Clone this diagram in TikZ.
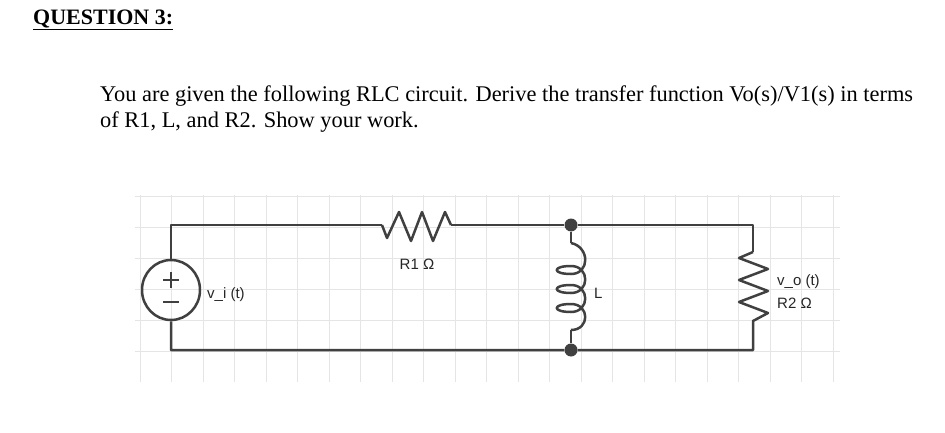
\documentclass[tikz,border=0pt]{standalone}
\usepackage{fontspec}
\setmainfont{Liberation Serif}
\setsansfont{Liberation Sans}
\usetikzlibrary{shapes.geometric}
\begin{document}
\begin{tikzpicture}[x=1pt,y=-1pt,
  wire/.style={line width=2.5pt,draw=black!75,line join=round},
  lbl/.style={font=\sffamily\fontsize{15}{17}\selectfont,text=black!85,inner sep=0pt},
  dot/.style={circle,fill=black!75,inner sep=0pt,minimum size=13pt}]
\useasboundingbox (0,0) rectangle (945,433);
\fill[white] (0,0) rectangle (945,433);
% grid
\foreach \i in {0,...,22} \draw[black!10,line width=1pt] (140+31.5*\i,195) -- (140+31.5*\i,382);
\foreach \j in {0,...,5} \draw[black!10,line width=1pt] (135,196+31*\j) -- (840,196+31*\j);
% texts
\node[anchor=west,inner sep=0pt,font=\fontsize{22}{24}\selectfont\bfseries] (q) at (33,20) {\underline{QUESTION 3:}};
\node[anchor=north west,inner sep=0pt,align=left,font=\fontsize{22.4}{26}\selectfont] (t) at (100,86)
 {You are given the following RLC circuit. Derive the transfer function Vo(s)/V1(s) in terms\\of R1, L, and R2. Show your work.};
% coordinates
\coordinate (tl) at (171,225); \coordinate (bl) at (171,350);
\node[dot] (nt) at (571,225) {}; \node[dot] (nb) at (571,350) {};
\coordinate (tr) at (753,225); \coordinate (br) at (753,350);
\node[draw=black!75,line width=2.5pt,ellipse,minimum width=58pt,minimum height=60pt,inner sep=0pt] (src) at (171,290) {};
\draw[wire] (163,280) -- (179,280) (171,272) -- (171,288);
\draw[wire] (163,302) -- (179,302);
\coordinate (r1a) at (382,225); \coordinate (r1b) at (451,225);
\coordinate (ia) at (571,243); \coordinate (ib) at (571,330);
\coordinate (r2a) at (753,252); \coordinate (r2b) at (753,321);
\draw[wire] (src.north) -- (tl) -- (r1a);
\draw[wire] (r1a) -- (387,238) -- (399,212) -- (411,241) -- (422,212) -- (433,241) -- (445,212) -- (r1b);
\draw[wire] (r1b) -- (nt) -- (tr) -- (r2a);
\draw[wire] (r2a) -- (739,258) -- (768,269) -- (739,280) -- (768,291) -- (739,302) -- (768,313) -- (r2b) -- (br) -- (nb) -- (bl) -- (src.south);
\draw[wire] (nt) -- (ia);
\draw[wire] (ia) .. controls (590,247) and (590,274) .. (571,274) .. controls (552,274) and (552,266) .. (571,266)
 .. controls (590,266) and (590,293) .. (571,293) .. controls (552,293) and (552,285) .. (571,285)
 .. controls (590,285) and (590,312) .. (571,312) .. controls (552,312) and (552,304) .. (571,304)
 .. controls (590,304) and (590,330) .. (ib);
\draw[wire] (ib) -- (nb);
\node[lbl] (l1) at (417,264) {R1 Ω};
\node[lbl,anchor=west] (l2) at (207,295) {v\_i (t)};
\node[lbl,anchor=west] (l3) at (594,293) {L};
\node[lbl,anchor=west] (l4) at (777,282) {v\_o (t)};
\node[lbl,anchor=west] (l5) at (777,303) {R2 Ω};
\end{tikzpicture}
\end{document}
